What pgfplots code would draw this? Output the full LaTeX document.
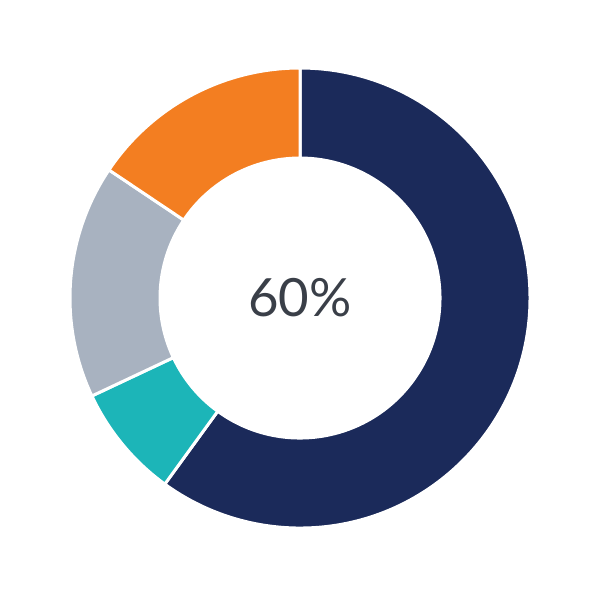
\documentclass[border=0pt]{standalone}
\usepackage{pgfplots}
\pgfplotsset{compat=1.18}
\usepackage{pgfplotstable}
\usepackage{fontspec}
\setmainfont{Lato}

\definecolor{navy}{HTML}{1B2A5A}
\definecolor{tealc}{HTML}{1CB5B8}
\definecolor{grayc}{HTML}{A8B2C0}
\definecolor{orangec}{HTML}{F37E21}
\definecolor{textc}{HTML}{3A3F48}

% share of each slice, clockwise from 12 o'clock
\pgfplotstableread{
value color
60 navy
8 tealc
16.4 grayc
15.6 orangec
}\donutdata

\begin{document}
\begin{tikzpicture}
\begin{axis}[
    scale only axis,
    width=6cm, height=5.99cm,
    xmin=-300, xmax=300,
    ymin=-301, ymax=298,
    hide axis,
    clip=false,
]
    \path (axis cs:-300,-301) rectangle (axis cs:300,298);
    \pgfplotstablegetrowsof{\donutdata}
    \pgfmathtruncatemacro\nrows{\pgfplotsretval-1}
    \def\cum{0}
    \pgfplotsforeachungrouped \i in {0,...,\nrows}{%
        \pgfplotstablegetelem{\i}{value}\of\donutdata \let\val\pgfplotsretval
        \pgfplotstablegetelem{\i}{color}\of\donutdata \let\col\pgfplotsretval
        \pgfmathsetmacro\aS{90-3.6*\cum}
        \pgfmathsetmacro\aE{90-3.6*(\cum+\val)}
        \edef\temp{\noexpand\fill[\col, draw=white, line width=0.85pt]
            (axis cs:{230*cos(\aS)},{230*sin(\aS)})
            arc[start angle=\aS, end angle=\aE, radius=2.3cm]
            -- (axis cs:{140*cos(\aE)},{140*sin(\aE)})
            arc[start angle=\aE, end angle=\aS, radius=1.4cm] -- cycle;}
        \temp
        \pgfmathsetmacro\cum{\cum+\val}
    }
    \node[text=textc, font=\fontsize{15}{18}\selectfont] at (axis cs:0,0) {60\%};
\end{axis}
\end{tikzpicture}
\end{document}
